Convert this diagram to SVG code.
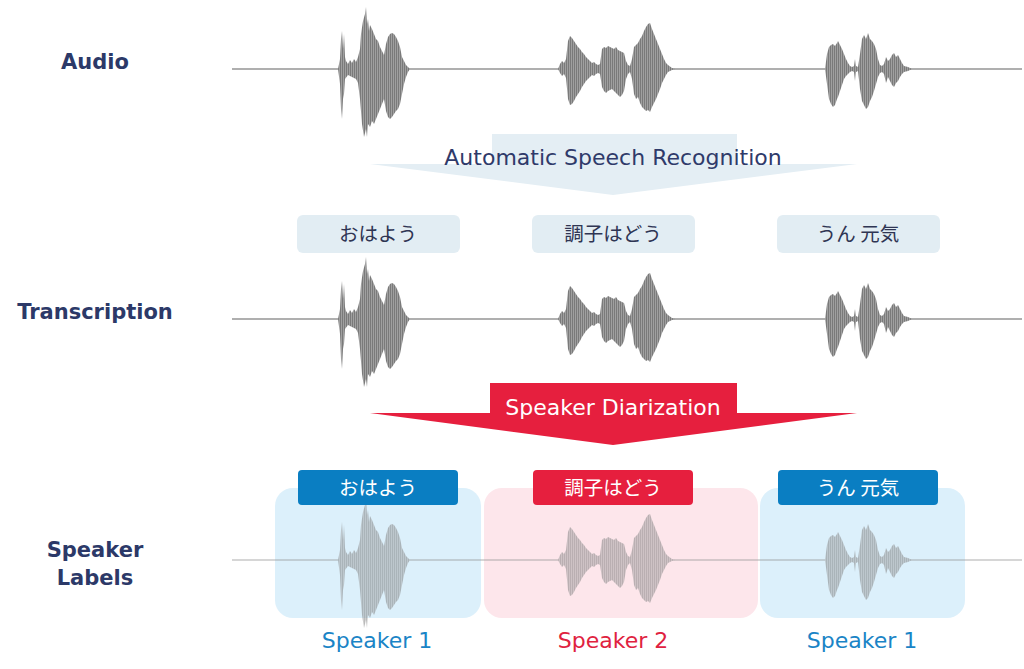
<svg xmlns="http://www.w3.org/2000/svg" xmlns:xlink="http://www.w3.org/1999/xlink" width="1024" height="669" viewBox="0 0 1024 669">
<style>
.rowlabel{font-family:"DejaVu Sans","Liberation Sans",sans-serif;font-weight:bold;font-size:21px;fill:#2c3968;text-anchor:middle}
.jp{font-family:"Noto Sans CJK JP","Noto Sans",sans-serif;font-size:19.5px;text-anchor:middle}
.tbox{fill:#e2edf3}
.spk{font-family:"DejaVu Sans","Liberation Sans",sans-serif;font-size:22px;text-anchor:middle}
.arrowtext{font-family:"DejaVu Sans","Liberation Sans",sans-serif;font-size:22px;text-anchor:middle}
</style>
<defs>
<pattern id="hatch" width="2" height="4" patternUnits="userSpaceOnUse">
<rect width="2" height="4" fill="#a0a0a0"/>
<rect width="1" height="4" fill="#7a7a7a"/>
</pattern>
<g id="wave">
<line x1="232" y1="0" x2="1022" y2="0" stroke="#959595" stroke-width="1.3"/>
<path fill="url(#hatch)" d="M338,0 L340,-10 341,-30 342,-38 343,-20 344,-35 345,-12 346,-8 348,-5 350,-9 352,-6 354,-10 356,-7 358,-12 360,-20 361,-35 363,-48 365,-55 366,-62 367,-45 368,-50 369,-38 370,-44 372,-40 374,-35 376,-30 378,-28 380,-22 382,-18 384,-14 386,-25 388,-32 390,-35 392,-36 394,-35 396,-32 398,-28 400,-22 402,-12 404,-8 406,-4 408,-2 410,0 L408,3 406,8 404,15 402,25 400,35 398,40 396,42 394,45 392,48 390,50 388,48 386,42 384,30 382,35 380,40 378,45 376,50 374,55 372,52 370,58 368,55 367,68 366,60 364,68 362,55 360,30 358,14 356,10 352,8 348,6 345,10 344,25 343,30 342,50 341,40 340,15 Z"/>
<path fill="url(#hatch)" d="M558,0 L560,-5 562,-8 564,-6 566,-10 568,-28 570,-33 572,-31 574,-28 576,-25 578,-22 580,-20 582,-17 584,-15 586,-12 588,-10 590,-8 592,-6 594,-7 596,-5 598,-4 600,-5 602,-20 604,-22 606,-21 608,-23 610,-22 612,-21 614,-20 616,-22 618,-19 620,-18 622,-17 624,-16 626,-8 628,-4 630,-3 632,-10 634,-22 636,-24 638,-26 640,-30 642,-33 644,-38 646,-42 648,-45 650,-46 652,-40 654,-35 656,-30 658,-25 660,-20 662,-15 664,-10 666,-6 668,-4 672,-1 675,0 L672,1 668,3 666,6 664,10 662,14 660,20 658,25 656,30 654,34 652,38 650,43 648,41 646,42 644,40 642,38 640,34 638,28 636,30 634,25 632,10 630,3 628,5 626,10 624,22 622,26 620,28 618,26 616,24 614,22 612,20 610,21 608,22 606,24 604,22 602,18 600,5 598,4 596,5 594,7 592,6 590,8 588,10 586,12 584,15 582,18 580,22 578,25 576,28 574,32 572,35 570,36 568,30 566,9 564,5 562,7 560,4 Z"/>
<path fill="url(#hatch)" d="M825,0 L827,-15 829,-22 831,-24 833,-25 835,-23 837,-26 838,-28 840,-24 842,-20 844,-15 846,-10 848,-6 850,-3 852,-2 854,-3 855,-10 856,-3 858,-2 860,-15 862,-30 864,-34 866,-30 868,-36 870,-30 872,-28 874,-25 876,-20 878,-10 880,-4 882,-3 884,-5 886,-12 888,-8 890,-10 892,-14 894,-16 896,-12 898,-14 900,-10 902,-6 904,-3 908,-2 912,0 L908,2 904,3 902,5 900,8 898,12 896,14 894,18 892,16 890,12 888,8 886,14 884,5 882,3 880,4 878,8 876,15 874,22 872,28 870,32 868,38 866,40 864,36 862,32 860,20 858,2 856,3 855,12 854,3 852,2 850,3 848,5 846,7 844,10 842,16 840,22 838,28 837,30 835,36 833,38 831,35 829,30 827,15 Z"/>
</g>
</defs>
<rect width="1024" height="669" fill="#ffffff"/>

<g id="row-labels">
<text class="rowlabel" x="95" y="69">Audio</text>
<text class="rowlabel" x="95" y="319">Transcription</text>
<text class="rowlabel" x="95" y="557">Speaker</text>
<text class="rowlabel" x="95" y="585">Labels</text>
</g>

<g id="audio-wave"><use xlink:href="#wave" transform="translate(0,69)"/></g>

<g id="connectors">
<g id="asr-arrow">
<path d="M492,134 H737 V164 H857 L613,195 L370,164 H492 Z" fill="#e4eef4"/>
<text class="arrowtext" x="613" y="165" fill="#2f3a6a">Automatic Speech Recognition</text>
</g>
<g id="diarization-arrow">
<path d="M490,383 H737 V413 H857 L613,445 L370,413 H490 Z" fill="#e61f3e"/>
<text class="arrowtext" x="613" y="415" fill="#ffffff">Speaker Diarization</text>
</g>
</g>

<g id="transcript-1"><rect class="tbox" x="297" y="215" width="163" height="38" rx="6"/><text class="jp" x="378" y="241" fill="#2f3553">おはよう</text></g>
<g id="transcript-2"><rect class="tbox" x="532" y="215" width="163" height="38" rx="6"/><text class="jp" x="613" y="241" fill="#2f3553">調子はどう</text></g>
<g id="transcript-3"><rect class="tbox" x="777" y="215" width="163" height="38" rx="6"/><text class="jp" x="858" y="241" fill="#2f3553">うん 元気</text></g>

<g id="transcription-wave"><use xlink:href="#wave" transform="translate(0,319)"/></g>

<g id="speaker-panel-1"><rect x="275" y="488" width="206" height="130" rx="18" fill="#dcf0fb"/></g>
<g id="speaker-panel-2"><rect x="484" y="488" width="274" height="130" rx="18" fill="#fde6eb"/></g>
<g id="speaker-panel-3"><rect x="760" y="488" width="205" height="130" rx="18" fill="#dcf0fb"/></g>

<g id="speaker-wave" opacity="0.5"><use xlink:href="#wave" transform="translate(0,560)"/></g>

<g id="label-1"><rect x="298" y="470" width="160" height="35" rx="4" fill="#0a7ec2"/><text class="jp" x="378" y="495" fill="#ffffff">おはよう</text></g>
<g id="label-2"><rect x="533" y="470" width="160" height="35" rx="4" fill="#e61f3e"/><text class="jp" x="613" y="495" fill="#ffffff">調子はどう</text></g>
<g id="label-3"><rect x="778" y="470" width="160" height="35" rx="4" fill="#0a7ec2"/><text class="jp" x="858" y="495" fill="#ffffff">うん 元気</text></g>

<g id="speaker-names">
<text class="spk" x="377" y="648" fill="#1a84c6">Speaker 1</text>
<text class="spk" x="613" y="648" fill="#e0223f">Speaker 2</text>
<text class="spk" x="862" y="648" fill="#1a84c6">Speaker 1</text>
</g>
</svg>
